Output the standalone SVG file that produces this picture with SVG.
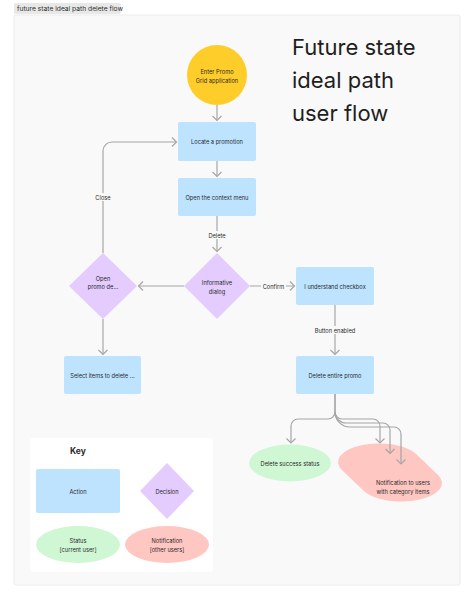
<svg xmlns="http://www.w3.org/2000/svg" width="474" height="600" viewBox="0 0 474 600">
<defs>
<style>
text{font-family:Inter,"Liberation Sans",sans-serif;fill:#2b2b2b;text-anchor:middle;dominant-baseline:central}
.n{font-size:5.7px}
.act{fill:#bde3ff;rx:2}
.dec{fill:#e4ccff}
.sts{fill:#cff7d3}
.ntf{fill:#ffc7c2}
.c{fill:none;stroke:#a6a6a6;stroke-width:1.2}
.lb{fill:#f9f9f9}
.t{font-size:22px;text-anchor:start;dominant-baseline:auto;fill:#1e1e1e}
</style>
<marker id="ah" viewBox="-6 -6 8 12" markerWidth="8" markerHeight="12" refX="0" refY="0" orient="auto" markerUnits="userSpaceOnUse">
<path d="M-4.5,-4.5 L0,0 L-4.5,4.5" fill="none" stroke="#a6a6a6" stroke-width="1.2"/>
</marker>
</defs>
<rect width="474" height="600" fill="#ffffff"/>
<g id="frame-label">
<rect x="14" y="3" width="107" height="11" rx="2" fill="#e8e8e8"/>
<text x="17" y="8.7" style="font-size:6.7px;text-anchor:start" fill="#1e1e1e">future state ideal path delete flow</text>
</g>
<rect id="frame" x="14" y="15" width="446" height="570" rx="2" fill="#f9f9f9" stroke="#ececec" stroke-width="1"/>
<g id="title">
<text class="t" x="292" y="55">Future state</text>
<text class="t" x="292" y="88">ideal path</text>
<text class="t" x="292" y="121">user flow</text>
</g>
<g id="start">
<circle cx="217" cy="75" r="30" fill="#ffcd29"/>
<text class="n" x="217" y="71">Enter Promo</text>
<text class="n" x="217" y="80">Grid application</text>
</g>
<g id="locate">
<rect class="act" x="178" y="122" width="78" height="39"/>
<text class="n" x="217" y="141.5">Locate a promotion</text>
</g>
<g id="context">
<rect class="act" x="178" y="178" width="78" height="38"/>
<text class="n" x="217" y="197">Open the context menu</text>
</g>
<g id="informative">
<path class="dec" d="M217,253 L250,286 L217,319 L184,286 Z"/>
<text class="n" x="217" y="282">Informative</text>
<text class="n" x="217" y="291">dialog</text>
</g>
<g id="openpromo">
<path class="dec" d="M103,253 L137,286 L103,319 L69,286 Z"/>
<text class="n" x="103" y="278">Open</text>
<text class="n" x="103" y="286">promo de...</text>
</g>
<g id="select">
<rect class="act" x="64" y="356" width="77" height="38"/>
<text class="n" x="102.5" y="375">Select items to delete ...</text>
</g>
<g id="checkbox">
<rect class="act" x="296" y="267" width="78" height="38"/>
<text class="n" x="335" y="286">I understand checkbox</text>
</g>
<g id="deleteall">
<rect class="act" x="296" y="356" width="78" height="38"/>
<text class="n" x="335" y="375">Delete entire promo</text>
</g>
<g id="success">
<ellipse class="sts" cx="290" cy="463" rx="41" ry="18.5"/>
<text class="n" x="290" y="463.5">Delete success status</text>
</g>
<g id="notification">
<path class="ntf" d="M416.07,454.09 L438.07,475.09 A41,18.5 0 0 1 363.93,490.91 L341.93,469.91 A41,18.5 0 0 1 416.07,454.09 Z"/>
<text class="n" x="403" y="482">Notification to users</text>
<text class="n" x="403" y="491">with category items</text>
</g>
<g id="connectors">
<path class="c" marker-end="url(#ah)" d="M217,105 L217,120.5"/>
<path class="c" marker-end="url(#ah)" d="M217,161 L217,176.5"/>
<path class="c" marker-end="url(#ah)" d="M217,216 L217,251.5"/>
<path class="c" marker-end="url(#ah)" d="M184,286 L138.5,286"/>
<path class="c" marker-end="url(#ah)" d="M103,253 L103,151 A9,9 0 0 1 112,142 L176.5,142"/>
<path class="c" marker-end="url(#ah)" d="M103,319 L103,354.5"/>
<path class="c" marker-end="url(#ah)" d="M250,286 L294.5,286"/>
<path class="c" marker-end="url(#ah)" d="M335,305 L335,354.5"/>
<path class="c" marker-end="url(#ah)" d="M335,394 L335,412 A7,7 0 0 1 328,419 L298,419 A7,7 0 0 0 291,426 L291,443"/>
<path class="c" marker-end="url(#ah)" d="M335,394 L335,412 A7,7 0 0 0 342,419 L373,419 A7,7 0 0 1 380,426 L380,443"/>
<path class="c" marker-end="url(#ah)" d="M335,412 A11,11 0 0 0 346,423 L383,423 A7,7 0 0 1 390,430 L390,453.5"/>
<path class="c" marker-end="url(#ah)" d="M335,412 A15,15 0 0 0 350,427 L394,427 A7,7 0 0 1 401,434 L401,464"/>
<rect class="lb" x="204" y="231" width="26" height="8"/>
<text class="n" x="217" y="235">Delete</text>
<rect class="lb" x="92" y="193" width="22" height="8"/>
<text class="n" x="103" y="197">Close</text>
<rect class="lb" x="261" y="282" width="25" height="8"/>
<text class="n" x="273.5" y="286">Confirm</text>
<rect class="lb" x="314" y="326" width="42" height="8"/>
<text class="n" x="335" y="330">Button enabled</text>
</g>
<g id="key">
<rect x="30" y="438" width="183" height="134" rx="3" fill="#ffffff"/>
<text x="78" y="451" style="font-size:8.5px;font-weight:700" fill="#1e1e1e">Key</text>
<rect class="act" x="36" y="469" width="84" height="44"/>
<text class="n" x="78" y="491">Action</text>
<path class="dec" d="M167,463 L194,491 L167,519 L140,491 Z"/>
<text class="n" x="167" y="491">Decision</text>
<ellipse class="sts" cx="78" cy="544.5" rx="42" ry="18.5"/>
<text class="n" x="78" y="540.5">Status</text>
<text class="n" x="78" y="549">[current user]</text>
<ellipse class="ntf" cx="167" cy="544.5" rx="42" ry="18.5"/>
<text class="n" x="167" y="540.5">Notification</text>
<text class="n" x="167" y="549">[other users]</text>
</g>
</svg>
